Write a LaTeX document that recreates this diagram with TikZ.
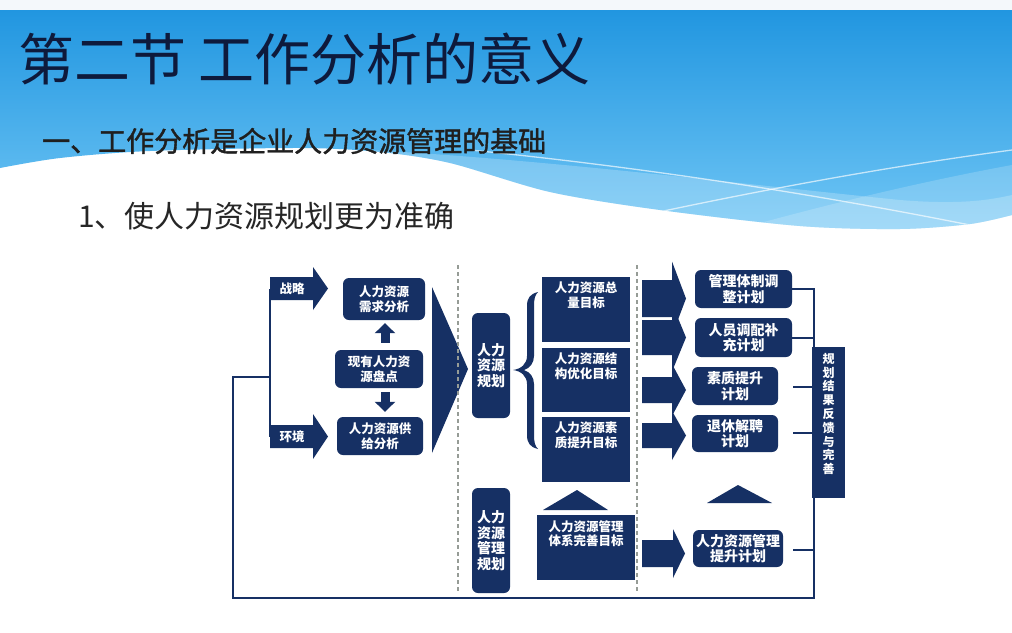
\documentclass[tikz,border=0pt]{standalone}
\usepackage{fontspec}
\newfontfamily\cjk{Noto Sans CJK SC}
\newfontfamily\cjkm{Noto Sans CJK SC}[FakeBold=1.4]
\usetikzlibrary{calc,arrows.meta}
\definecolor{navy}{RGB}{22,48,100}
\definecolor{hdrtop}{RGB}{33,150,224}
\definecolor{hdrbot}{RGB}{112,198,245}
\definecolor{titlec}{RGB}{14,26,60}
\definecolor{dotc}{RGB}{150,156,150}
\definecolor{stripc}{RGB}{244,248,251}
\newcommand\bxfont{\cjk\bfseries\fontsize{12.5}{15}\selectfont}
\newcommand\bxfontL{\cjk\bfseries\fontsize{14}{15.5}\selectfont}
\newcommand\barrow[6]{\fill[navy] (#1,#4-#5) -- (#2,#4-#5) -- (#2,#4-#6) -- (#3,#4) -- (#2,#4+#6) -- (#2,#4+#5) -- (#1,#4+#5) -- cycle;}
\begin{document}
\begin{tikzpicture}[x=1pt,y=-1pt,
  box/.style={fill=navy, text=white, font=\bxfont, align=center, inner sep=0pt},
  rbox/.style={box, rounded corners=6pt},
  lbl/.style={text=white, font=\bxfont, align=center, inner sep=0pt},
  conn/.style={draw=navy, line width=2pt},
  dotline/.style={draw=dotc, line width=2pt, dash pattern=on 4pt off 3pt},
  blk/.style={draw=navy, line width=9pt, -{Triangle[width=20pt,length=10pt]}}]
\useasboundingbox (0,0) rectangle (1012,632);
\fill[white] (0,0) rectangle (1012,632);
% ---------- header background ----------
\fill[stripc] (0,0) rectangle (1012,12);
\shade[top color=hdrtop, bottom color=hdrbot]
  (0,10) -- (1012,10) -- (1012,215) -- plot[smooth] coordinates {(1012,215) (970,224) (900,229) (800,226) (660,210) (550,192) (450,163) (380,152) (300,148) (150,151) (60,158) (0,168)} -- cycle;
\begin{scope}
\clip (0,10) -- (1012,10) -- (1012,215) -- plot[smooth] coordinates {(1012,215) (970,224) (900,229) (800,226) (660,210) (550,192) (450,163) (380,152) (300,148) (150,151) (60,158) (0,168)} -- cycle;
\fill[white, opacity=0.22] (370,150) .. controls (550,160) and (750,185) .. (900,200) .. controls (960,205) and (990,200) .. (1012,195) -- (1012,240) -- (370,240) -- cycle;
\fill[white, opacity=0.18] (700,240) .. controls (820,205) and (930,180) .. (1012,165) -- (1012,240) -- cycle;
\draw[white, opacity=0.65, line width=1.3pt] (470,150) .. controls (650,168) and (820,195) .. (975,226);
\draw[white, opacity=0.65, line width=1.3pt] (640,216) .. controls (780,186) and (900,165) .. (1012,150);
\end{scope}
% ---------- header texts ----------
\node[anchor=west, inner sep=0pt, font=\cjk\fontsize{56}{60}\selectfont, text=titlec] (title) at (18,59) {第二节 工作分析的意义};
\node[anchor=west, inner sep=0pt, font=\cjkm\fontsize{28}{32}\selectfont, text=black!88] (sub) at (42,141) {一、工作分析是企业人力资源管理的基础};
\node[anchor=west, inner sep=0pt, font=\cjk\fontsize{30}{34}\selectfont, text=black!85] (item) at (78,216) {1、使人力资源规划更为准确};
% ---------- left group ----------
\barrow{270}{313}{328}{288.5}{11.5}{21.5}
\barrow{270}{313}{328}{436.5}{11.5}{22.5}
\node[lbl] (zl) at (292,289) {战略};
\node[lbl] (hj) at (292,437) {环境};
\node[rbox, minimum width=82pt, minimum height=42pt] (need) at (384,299) {人力资源\\需求分析};
\node[rbox, minimum width=88pt, minimum height=38pt] (exist) at (379,369) {现有人力资\\源盘点};
\node[rbox, minimum width=86pt, minimum height=38pt] (supply) at (380,436) {人力资源供\\给分析};
\draw[blk, shorten <=7pt, shorten >=3pt] (exist.north -| 385,0) -- (need.south -| 385,0);
\draw[blk, shorten <=4pt, shorten >=5pt] (exist.south -| 385,0) -- (supply.north -| 385,0);
\fill[navy] (432,287) -- (468,369) -- (432,453) -- cycle;
% ---------- middle ----------
\node[rbox, font=\bxfontL, minimum width=38pt, minimum height=105pt] (plan) at (491,365.5) {人力\\资源\\规划};
\node[rbox, font=\bxfontL, minimum width=38pt, minimum height=105pt] (mplan) at (491,540.5) {人力\\资源\\管理\\规划};
\fill[navy] (538,292) .. controls (530,294) and (527,298) .. (527,306) -- (527,356)
  .. controls (527,364) and (521,369) .. (513,370)
  .. controls (521,371) and (527,376) .. (527,384) -- (527,435)
  .. controls (527,443) and (530,447) .. (538,449)
  .. controls (535,446) and (534,442) .. (534,435) -- (534,384)
  .. controls (534,377) and (530,372) .. (524,370)
  .. controls (530,368) and (534,363) .. (534,356) -- (534,306)
  .. controls (534,299) and (535,295) .. (538,292) -- cycle;
\node[box, minimum width=88pt, minimum height=65pt] (g1) at (586,309.5) {};
\node[box, minimum width=88pt, minimum height=64pt] (g2) at (586,380) {};
\node[box, minimum width=88pt, minimum height=65pt] (g3) at (586,449.5) {};
\node[box, minimum width=98pt, minimum height=65pt] (g4) at (586,547.5) {};
\node[lbl, anchor=north] (g1t) at ([yshift=-4.5pt]g1.north) {人力资源总\\量目标};
\node[lbl, anchor=north] (g2t) at ([yshift=-5pt]g2.north) {人力资源结\\构优化目标};
\node[lbl, anchor=north] (g3t) at ([yshift=-5pt]g3.north) {人力资源素\\质提升目标};
\node[lbl, anchor=north, font=\cjk\bfseries\fontsize{12.5}{13.5}\selectfont] (g4t) at ([yshift=-6pt]g4.north) {人力资源管理\\体系完善目标};
\fill[navy] (543,510) -- (577,490) -- (608,510) -- cycle;
% ---------- dotted separators ----------
\draw[dotline] (458,265) -- (458,592);
\draw[dotline] (637,265) -- (637,592);
% ---------- right arrows ----------
\barrow{642}{672}{686}{298.5}{18.5}{37}
\barrow{642}{672}{686}{337.5}{17.5}{34}
\barrow{642}{672}{686}{390}{13}{26}
\barrow{642}{672}{686}{435.5}{12.5}{24.5}
\barrow{642}{673}{685}{553.5}{13.5}{24.5}
% ---------- right boxes ----------
\node[rbox, font=\bxfontL, minimum width=97pt, minimum height=38pt] (p1) at (743.5,289) {管理体制调\\整计划};
\node[rbox, font=\bxfontL, minimum width=97pt, minimum height=39pt] (p2) at (743.5,337.5) {人员调配补\\充计划};
\node[rbox, font=\bxfontL, minimum width=86pt, minimum height=38pt] (p3) at (735,386) {素质提升\\计划};
\node[rbox, font=\bxfontL, minimum width=86pt, minimum height=37pt] (p4) at (735,433.5) {退休解聘\\计划};
\node[rbox, font=\bxfontL, minimum width=90pt, minimum height=37pt] (p5) at (738,548.5) {人力资源管理\\提升计划};
\fill[navy] (707,503) -- (738,485) -- (772,503) -- cycle;
\node[box, minimum width=33pt, minimum height=151pt] (fb) at (828.5,422.5) {};
\node[lbl, font=\cjk\bfseries\fontsize{12}{13.8}\selectfont] (fbt) at (828.5,414) {规\\划\\结\\果\\反\\馈\\与\\完\\善};
% ---------- connectors ----------
\coordinate (fbtop) at ($(fb.north west)+(2,0)$);
\coordinate (fbbot) at ($(fb.south west)+(2,0)$);
\coordinate (p3e) at (793,387);
\coordinate (p4e) at (793,433);
\coordinate (p5e) at (793,550);
\coordinate (bl) at (233,598);
\coordinate (jn) at (270,377);
\coordinate (zlL) at (270,288.5);
\coordinate (hjL) at (270,436.5);
\draw[conn] (p1.east) -| (fbtop);
\draw[conn] (p2.east) -- (p2.east -| fbtop);
\draw[conn] (p3e) -- (p3e -| fb.west);
\draw[conn] (p4e) -- (p4e -| fb.west);
\draw[conn] (p5e) -- (p5e -| fbtop);
\draw[conn] (fbbot) -- (fbbot |- bl) -- (bl) -- (bl |- jn) -- (jn);
\draw[conn] (zlL) -- (hjL);
\end{tikzpicture}
\end{document}
